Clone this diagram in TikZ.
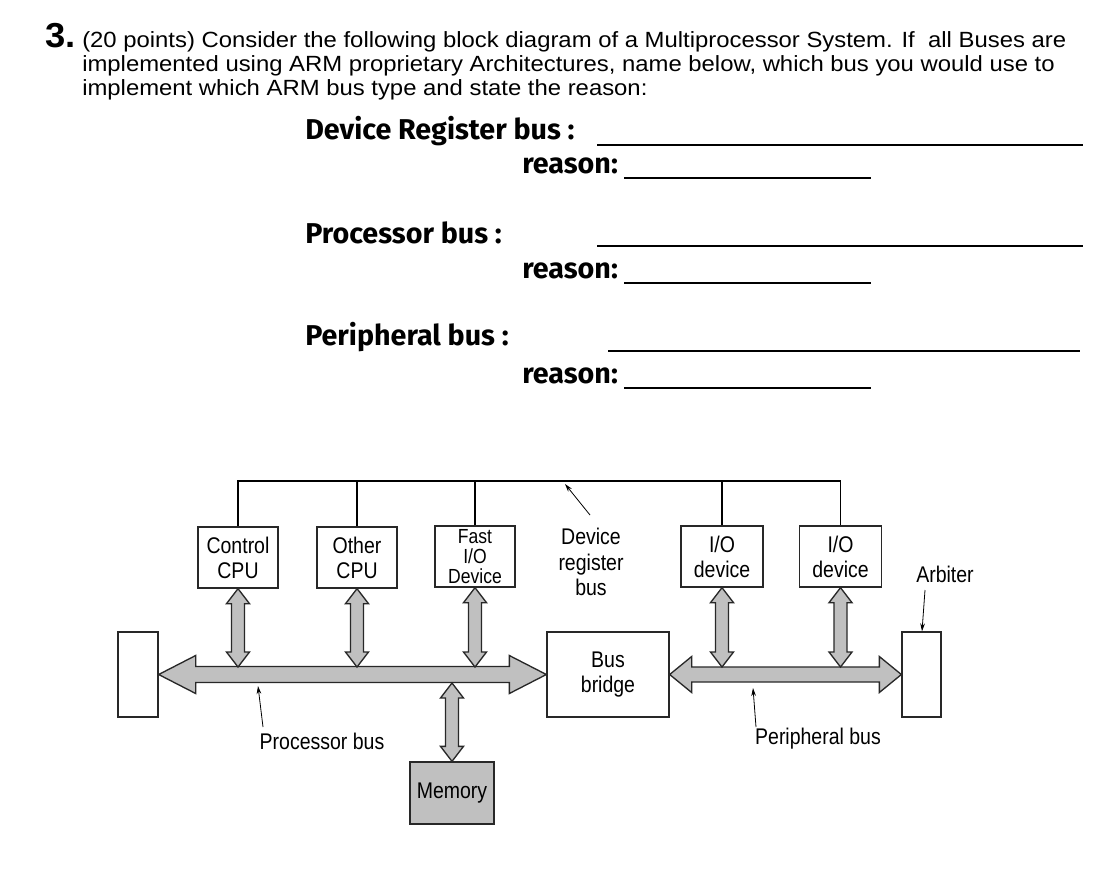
\documentclass[tikz,border=0pt]{standalone}
\usepackage{fontspec}
\setmainfont{Liberation Sans}
\newfontfamily\narfont[FakeStretch=0.86]{Liberation Sans}
\newfontfamily\txtfont[FakeStretch=1.085]{Liberation Sans}
\newfontfamily\numfont[FakeStretch=1.05]{Liberation Sans}
\newfontfamily\hdfont[FakeStretch=1.0]{Fira Sans}
\usetikzlibrary{calc,arrows.meta}
\definecolor{busgray}{RGB}{192,192,192}
\definecolor{edgegray}{RGB}{40,40,40}
\tikzset{
  px/.style={x=0.75pt,y=-0.75pt},
  txt/.style={anchor=base west,inner sep=0pt,font=\txtfont\fontsize{16.5}{18}\selectfont},
  hd/.style={anchor=base west,inner sep=0pt,font=\hdfont\fontsize{21.5}{24}\selectfont\bfseries},
  blank/.style={line width=2pt},
  box/.style={draw=edgegray,line width=1pt,inner sep=0pt,align=center,
    font=\narfont\fontsize{17}{18.8}\selectfont},
  lbl/.style={inner sep=0pt,align=center,font=\narfont\fontsize{17}{19}\selectfont},
  fat/.style={draw=edgegray,line width=1pt,fill=busgray,line join=miter},
  thin/.style={draw=black,line width=0.6pt,-{Stealth[length=6pt,width=3.5pt]}},
  busline/.style={draw=black,line width=0.9pt}
}
% horizontal fat double arrow: #1 left point, #2 right point, #3 shaft half, #4 head half, #5 head length (px)
\newcommand\fatH[5]{%
  \path[fat] let \p1=#1, \p2=#2 in
    (\x1,\y1) -- (\x1+#5*0.75pt,\y1+#4*0.75pt) -- (\x1+#5*0.75pt,\y1+#3*0.75pt)
    -- (\x2-#5*0.75pt,\y1+#3*0.75pt) -- (\x2-#5*0.75pt,\y1+#4*0.75pt) -- (\x2,\y1)
    -- (\x2-#5*0.75pt,\y1-#4*0.75pt) -- (\x2-#5*0.75pt,\y1-#3*0.75pt)
    -- (\x1+#5*0.75pt,\y1-#3*0.75pt) -- (\x1+#5*0.75pt,\y1-#4*0.75pt) -- cycle;}
% vertical fat double arrow: #1 top point, #2 bottom point
\newcommand\fatV[5]{%
  \path[fat] let \p1=#1, \p2=#2 in
    (\x1,\y1) -- (\x1+#4*0.75pt,\y1-#5*0.75pt) -- (\x1+#3*0.75pt,\y1-#5*0.75pt)
    -- (\x1+#3*0.75pt,\y2+#5*0.75pt) -- (\x1+#4*0.75pt,\y2+#5*0.75pt) -- (\x1,\y2)
    -- (\x1-#4*0.75pt,\y2+#5*0.75pt) -- (\x1-#3*0.75pt,\y2+#5*0.75pt)
    -- (\x1-#3*0.75pt,\y1-#5*0.75pt) -- (\x1-#4*0.75pt,\y1-#5*0.75pt) -- cycle;}
\begin{document}
\begin{tikzpicture}[px]
\useasboundingbox[fill=white] (0,0) rectangle (1116,868);
% ---------- question text ----------
\node[anchor=base west,inner sep=0pt,font=\numfont\fontsize{26}{28}\selectfont\bfseries] (qnum) at (45,47) {3.};
\node[txt] (q1) at (82,47) {(20 points) Consider the following block diagram of a Multiprocessor System. If\ \ all Buses are};
\node[txt] (q2) at (82,71) {implemented using ARM proprietary Architectures, name below, which bus you would use to};
\node[txt] (q3) at (82,95) {implement which ARM bus type and state the reason:};
% ---------- answer lines ----------
\node[hd] (h1) at (305,139) {Device Register bus :};
\node[hd] (r1) at (522,173) {reason:};
\node[hd] (h2) at (305,243) {Processor bus :};
\node[hd] (r2) at (522,278) {reason:};
\node[hd] (h3) at (305,345) {Peripheral bus :};
\node[hd] (r3) at (522,383) {reason:};
\draw[blank] (597,145) -- (1083,145);
\draw[blank] (624,178) -- (871,178);
\draw[blank] (597,246) -- (1083,246);
\draw[blank] (624,283) -- (871,283);
\draw[blank] (608,351) -- (1080,351);
\draw[blank] (624,388) -- (871,388);
% ---------- diagram boxes ----------
\node[box,minimum width=60pt,minimum height=45.75pt] (cc) at (238,557.5) {Control\\CPU};
\node[box,minimum width=60pt,minimum height=45.75pt] (oc) at (357,557.5) {Other\\CPU};
\node[box,minimum width=60pt,minimum height=45.75pt,font=\narfont\fontsize{15.3}{15.3}\selectfont] (fio) at (475,556.5) {Fast\\I/O\\Device};
\node[box,minimum width=61.5pt,minimum height=45.75pt] (io1) at (722,556.5) {I/O\\device};
\node[box,minimum width=61.5pt,minimum height=45.75pt] (io2) at (840.5,556.5) {I/O\\device};
\node[box,minimum width=30pt,minimum height=63.75pt] (lbox) at (138,674.5) {};
\node[box,minimum width=29.25pt,minimum height=63.75pt] (arb) at (921.5,674.5) {};
\node[box,minimum width=91.5pt,minimum height=63.75pt] (bridge) at (608,674.5) {Bus\\bridge};
\node[box,fill=busgray,minimum width=63pt,minimum height=46.5pt] (mem) at (452,793) {Memory};
% ---------- device register bus ----------
\coordinate (top) at (0,481);
\draw[busline] (cc.north) -- (cc.north |- top) -| (io2.north);
\draw[busline] (oc.north) -- (oc.north |- top);
\draw[busline] (fio.north) -- (fio.north |- top);
\draw[busline] (io1.north) -- (io1.north |- top);
% ---------- fat buses ----------
\coordinate (pbtop) at (0,667);
\coordinate (pbbot) at (0,683);
\fatH{(lbox.east)}{(bridge.west)}{8}{19}{37}
\fatH{(bridge.east)}{(arb.west)}{7.5}{18}{22}
\fatV{(cc.south)}{(cc.south |- pbtop)}{6.5}{11.5}{15}
\fatV{(oc.south)}{(oc.south |- pbtop)}{6.5}{11.5}{15}
\fatV{(fio.south)}{(fio.south |- pbtop)}{6.5}{11.5}{15}
\fatV{(io1.south)}{(io1.south |- pbtop)}{6.5}{11.5}{15}
\fatV{(io2.south)}{(io2.south |- pbtop)}{6.5}{11.5}{15}
\fatV{(mem.north |- pbbot)}{(mem.north)}{6.5}{11.5}{15}
% ---------- labels ----------
\node[lbl] (drb) at (591,562) {Device\\register\\bus};
\node[lbl] (arbl) at (945,574) {Arbiter};
\node[lbl] (pbl) at (322,741) {Processor bus};
\node[lbl] (perl) at (818,739) {Peripheral bus};
\coordinate (drbs) at (590,515);
\coordinate (drbe) at (565,484);
\draw[thin] (drbs) -- (drbe);
\coordinate (arbs) at (925,590);
\draw[thin] (arbs) -- (arb.north -| 922,0);
\coordinate (pbs) at (263,727);
\coordinate (pbe) at (258,686);
\draw[thin] (pbs) -- (pbe);
\coordinate (pers) at (756,727);
\coordinate (pere) at (753,688);
\draw[thin] (pers) -- (pere);
\end{tikzpicture}
\end{document}
